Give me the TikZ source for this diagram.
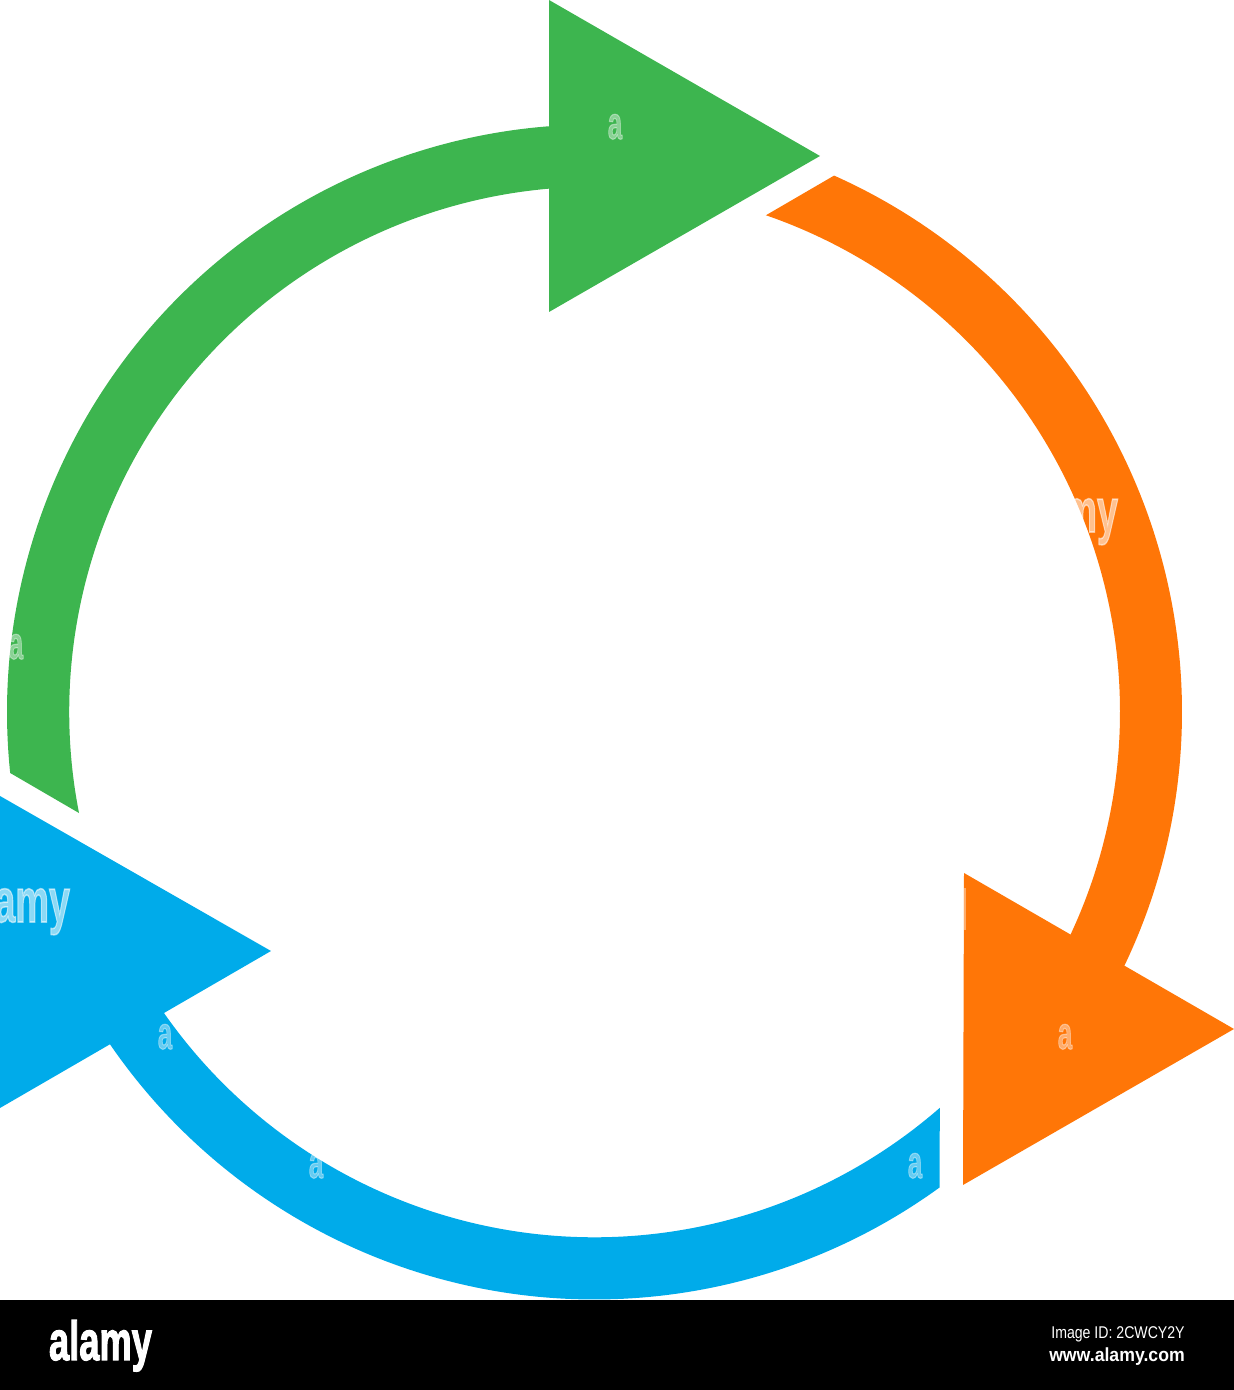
\documentclass[tikz,border=0pt]{standalone}
\usepackage{fontspec}
\setmainfont{Liberation Sans}
\newfontfamily\heavyfont[UprightFont=* Bold,FakeBold=2.5]{Liberation Sans}
\definecolor{cgreen}{HTML}{3DB54F}
\definecolor{corange}{HTML}{FF7607}
\definecolor{cblue}{HTML}{00ABEA}
\begin{document}
\begin{tikzpicture}[x=1pt,y=1pt,
  shapefill/.style={fill=#1,draw=none},
  wm/.style={inner sep=0pt,outer sep=0pt,anchor=base,text=white,opacity=0.4,font=\heavyfont\fontsize{46}{46}\selectfont,xscale=0.56},
  wmbig/.style={inner sep=0pt,outer sep=0pt,text=white,opacity=0.55,font=\heavyfont\fontsize{62}{62}\selectfont,xscale=0.61},
  bartext/.style={inner sep=0pt,outer sep=0pt,anchor=base,text=white}]
\useasboundingbox (0,0) rectangle (1234,1390);
\coordinate (c) at (594.5,678);
% green
\path[shapefill=cgreen] ([shift={(c)}]185.96:587.5) arc[start angle=185.96,end angle=92,radius=587.5]
  -- ([shift={(c)}]92:525.3) arc[start angle=92,end angle=191.09,radius=525.3] -- cycle;
\path[shapefill=cgreen] (549,1390) -- (820,1234) -- (549,1078) -- cycle;
% orange
\path[shapefill=corange] ([shift={(c)}]65.93:587.5) arc[start angle=65.93,end angle=-28,radius=587.5]
  -- ([shift={(c)}]-28:525.5) arc[start angle=-28,end angle=70.96,radius=525.5] -- cycle;
\path[shapefill=corange] (964,517) -- (1234,361) -- (963,205) -- cycle;
% blue
\path[shapefill=cblue] ([shift={(c)}]-54.03:587.5) arc[start angle=-54.03,end angle=-148,radius=587.5]
  -- ([shift={(c)}]-148:525.3) arc[start angle=-148,end angle=-48.9,radius=525.3] -- cycle;
\path[shapefill=cblue] (271,439) -- (0,594) -- (0,282) -- cycle;
% watermark fragments
\node[wm] (w1) at (615,1251) {a};
\node[wm] (w2) at (16,731) {a};
\node[wm] (w3) at (165,341) {a};
\node[wm] (w4) at (316,212) {a};
\node[wm] (w5) at (915,212) {a};
\node[wm] (w6) at (1065,341) {a};
\begin{scope}
\clip (0,0) rectangle (1234,1390);
\node[wmbig,anchor=base east] (w7) at (70,468) {amy};
\end{scope}
\node[wmbig,anchor=base east] (w8) at (1118,858) {my};
\fill[white,opacity=0.4] (964,502) rectangle (966,460);
% bottom bar
\fill[black] (0,0) rectangle (1234,90);
\node[bartext,font=\heavyfont\fontsize{55}{55}\selectfont,xscale=0.66] (logo) at (100.5,30) {alamy};
\node[bartext,font=\fontsize{17}{17}\selectfont,xscale=0.83] (imgid) at (1118,51) {Image ID: 2CWCY2Y};
\node[bartext,font=\bfseries\fontsize{19}{19}\selectfont,xscale=0.93] (url) at (1117,28) {www.alamy.com};
\end{tikzpicture}
\end{document}
